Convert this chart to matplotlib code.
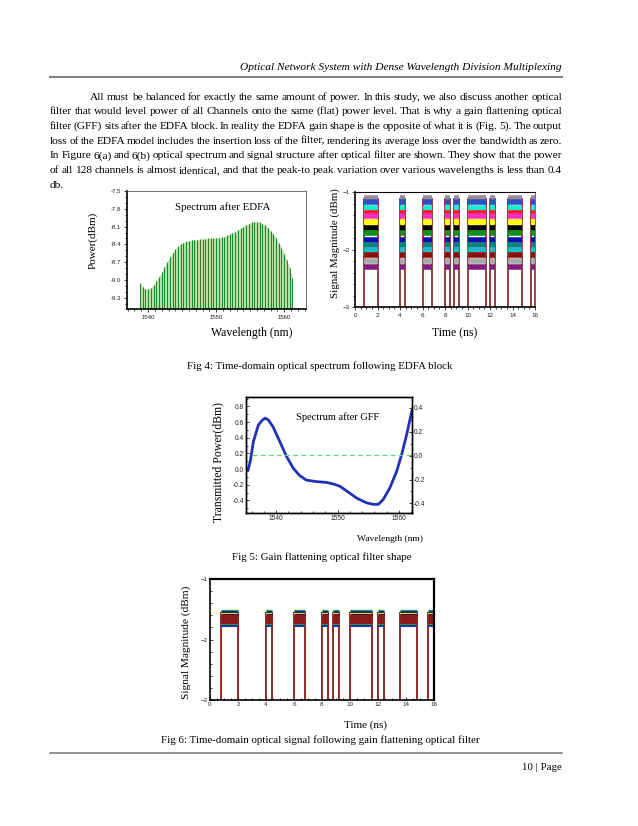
import matplotlib
matplotlib.use('Agg')
import matplotlib.pyplot as plt
from matplotlib.lines import Line2D
from matplotlib.ticker import MultipleLocator, FormatStrFormatter

W, H = 638, 826
SERIF = 'Liberation Serif'
SANS = 'Liberation Sans'

# ---------------- page text ----------------
HEADER = "Optical Network System with Dense Wavelength Division Multiplexing"
BODY_LINES = [
    "All must be balanced for exactly the same amount of power. In this study, we also discuss another optical",
    "filter that would level power of all Channels onto the same (flat) power level. That is why a gain flattening optical",
    "filter (GFF) sits after the EDFA block. In reality the EDFA gain shape is the opposite of what it is (Fig. 5). The output",
    "loss of the EDFA model includes the insertion loss of the filter, rendering its average loss over the bandwidth as zero.",
    "In Figure 6(a) and 6(b) optical spectrum and signal structure after optical filter are shown. They show that the power",
    "of all 128 channels is almost identical, and that the peak-to peak variation over various wavelengths is less than 0.4",
    "db.",
]
CAPTION_4 = "Fig 4: Time-domain optical spectrum following EDFA block"
CAPTION_5 = "Fig 5: Gain flattening optical filter shape"
CAPTION_6 = "Fig 6: Time-domain optical signal following gain flattening optical filter"
FOOTER = "10 | Page"

# ---------------- Fig 4(a): spectrum after EDFA ----------------
EDFA_WAVELENGTH = [
    1538.8, 1539.2, 1539.6, 1540.0, 1540.4, 1540.8, 1541.2, 1541.6, 1542.0, 1542.4,
    1542.8, 1543.2, 1543.6, 1544.0, 1544.4, 1544.8, 1545.2, 1545.6, 1546.0, 1546.4,
    1546.8, 1547.2, 1547.6, 1548.0, 1548.4, 1548.8, 1549.2, 1549.6, 1550.0, 1550.4,
    1550.8, 1551.2, 1551.6, 1552.0, 1552.4, 1552.8, 1553.2, 1553.6, 1554.0, 1554.4,
    1554.8, 1555.2, 1555.6, 1556.0, 1556.4, 1556.8, 1557.2, 1557.6, 1558.0, 1558.4,
    1558.8, 1559.2, 1559.6, 1560.0, 1560.4, 1560.8, 1561.2,
]
EDFA_POWER = [
    -9.05, -9.12, -9.16, -9.15, -9.13, -9.08, -9.02, -8.95, -8.87, -8.78,
    -8.69, -8.61, -8.54, -8.48, -8.43, -8.39, -8.37, -8.35, -8.34, -8.33,
    -8.32, -8.32, -8.31, -8.31, -8.31, -8.30, -8.30, -8.30, -8.29, -8.29,
    -8.28, -8.27, -8.25, -8.23, -8.21, -8.19, -8.16, -8.13, -8.10, -8.07,
    -8.05, -8.03, -8.02, -8.02, -8.03, -8.05, -8.08, -8.12, -8.17, -8.22,
    -8.29, -8.37, -8.46, -8.56, -8.67, -8.80, -8.96,
]
EDFA_YTICKS = [-7.5, -7.8, -8.1, -8.4, -8.7, -9.0, -9.3]

# ---------------- Fig 5: GFF shape ----------------
GFF_WAVELENGTH = [
    1535.4, 1535.8, 1536.3, 1537.1, 1537.7, 1538.2, 1538.7, 1539.5, 1540.6, 1541.7,
    1542.8, 1543.8, 1544.9, 1546.6, 1548.2, 1549.3, 1550.4, 1551.5, 1553.1, 1554.7,
    1555.8, 1556.6, 1557.4, 1558.5, 1559.6, 1560.4, 1561.2, 1562.1,
]
GFF_POWER = [
    -0.02, 0.10, 0.35, 0.56, 0.62, 0.65, 0.63, 0.54, 0.35, 0.16,
    0.01, -0.08, -0.14, -0.16, -0.17, -0.19, -0.22, -0.28, -0.37, -0.43,
    -0.45, -0.45, -0.39, -0.24, -0.03, 0.18, 0.43, 0.75,
]
GFF_FLAT_LEVEL = 0.18
GFF_LEFT_TICKS = [0.8, 0.6, 0.4, 0.2, 0.0, -0.2, -0.4]
GFF_RIGHT_TICKS = [0.4, 0.2, 0.0, -0.2, -0.4]

# ---------------- time-domain signals (Fig 4(b), Fig 6) ----------------
PULSE_STARTS = [0.8, 4.0, 6.0, 8.0, 8.8, 10.0, 12.0, 13.6, 15.6]
PULSE_ENDS = [2.0, 4.4, 6.8, 8.4, 9.2, 11.6, 12.4, 14.8, 16.0]
TIME_TICKS = [0, 2, 4, 6, 8, 10, 12, 14, 16]

EDFA_CH_LEVELS = [-1.10, -1.18, -1.27, -1.36, -1.42, -1.53, -1.62, -1.72,
                  -1.83, -1.93, -2.01, -2.10, -2.20, -2.30]
EDFA_CH_COLORS = ['#9a8a9a', '#3050c0', '#20e8d0', '#ff1a1a', '#ff30c0', '#ffff00',
                  '#000000', '#109020', '#1010b0', '#108080', '#20b8c8', '#8b1010',
                  '#a8a8a8', '#802080']

GFF_CH_LEVELS = [-1.53, -1.55, -1.58, -1.60, -1.67, -1.76, -1.78]
GFF_CH_COLORS = ['#30d030', '#1020b0', '#ffd000', '#101010', '#8b1a1a', '#20a020', '#2030c0']
GFF_CH_WIDTHS = [2.5, 2.5, 1.5, 2.0, 8.0, 1.5, 1.5]


def fx(x):
    return x / W


def fy(y):
    return 1 - y / H


def add_axes(fig, left, top, right, bottom):
    """Axes placed with page pixel coordinates."""
    return fig.add_axes([left / W, 1 - bottom / H, (right - left) / W, (bottom - top) / H])


def page_text(fig, x, y, s, size, ha='center', rotation=0, family=SERIF, style='normal'):
    return fig.text(fx(x), fy(y), s, fontsize=size, ha=ha, va='center',
                    rotation=rotation, family=family, style=style)


def draw_justified(fig, renderer, line, x0, x1, y, size, justify=True):
    """Draw one body line spread between x0 and x1 (y is the baseline)."""
    words = line.split(' ')
    texts = [fig.text(0, fy(y), w, fontsize=size, family=SERIF, va='baseline') for w in words]
    widths = [t.get_window_extent(renderer).width for t in texts]
    if justify and len(words) > 1:
        gap = (x1 - x0 - sum(widths)) / (len(words) - 1)
    else:
        gap = size * 0.35
    x = x0
    for t, w in zip(texts, widths):
        t.set_x(fx(x))
        x += w + gap


def style_ticks(ax, direction, size=4.5):
    ax.tick_params(which='both', direction=direction, labelsize=size, width=0.6,
                   colors='#222222', pad=1.5)
    ax.tick_params(which='major', length=2.5)
    ax.tick_params(which='minor', length=1.5)
    for lab in ax.get_xticklabels() + ax.get_yticklabels():
        lab.set_family(SANS)


def draw_edfa_spectrum(fig):
    ax = add_axes(fig, 127, 191, 306, 309)
    bottom = -9.49
    ax.fill_between(EDFA_WAVELENGTH, EDFA_POWER, bottom, color='#b8e0b2', lw=0)
    ax.vlines(EDFA_WAVELENGTH, bottom, EDFA_POWER, color='#1f8a1f', lw=0.75)
    ax.set_xlim(1536.9, 1563.2)
    ax.set_ylim(bottom, -7.5)
    ax.set_xticks([1540, 1550, 1560])
    ax.xaxis.set_minor_locator(MultipleLocator(1))
    ax.set_yticks(EDFA_YTICKS)
    ax.yaxis.set_minor_locator(MultipleLocator(0.1))
    ax.yaxis.set_major_formatter(FormatStrFormatter('%.1f'))
    style_ticks(ax, 'out', 4.3)
    for side in ['left', 'bottom']:
        ax.spines[side].set_linewidth(1.2)
    for side in ['top', 'right']:
        ax.spines[side].set_linewidth(0.6)
        ax.spines[side].set_color('#555555')
    page_text(fig, 223, 207, 'Spectrum after EDFA', 7.8)
    page_text(fig, 93, 240, 'Power(dBm)', 8.0, rotation=90)
    page_text(fig, 252, 333, 'Wavelength (nm)', 8.5)


def draw_pulses(ax, levels, colors, widths, edge_color, edge_top):
    ax.vlines(PULSE_STARTS + PULSE_ENDS, -3, edge_top, color=edge_color, lw=1.3)
    for level, color, lw in zip(levels, colors, widths):
        ax.hlines([level] * len(PULSE_STARTS), PULSE_STARTS, PULSE_ENDS,
                  color=color, lw=lw)


def time_axes(ax, direction):
    ax.set_xlim(0, 16)
    ax.set_ylim(-3, -1)
    ax.set_xticks(TIME_TICKS)
    ax.xaxis.set_minor_locator(MultipleLocator(0.5))
    ax.set_yticks([-1, -2, -3])
    ax.yaxis.set_minor_locator(MultipleLocator(0.2))
    style_ticks(ax, direction, 4.5)


def draw_edfa_signal(fig):
    ax = add_axes(fig, 355, 192, 535, 307)
    draw_pulses(ax, EDFA_CH_LEVELS, EDFA_CH_COLORS, [4.0] * len(EDFA_CH_LEVELS),
                '#8b3030', -1.1)
    time_axes(ax, 'out')
    for side in ['left', 'bottom']:
        ax.spines[side].set_linewidth(1.2)
    ax.spines['top'].set_linewidth(0.8)
    ax.spines['right'].set_linewidth(0.6)
    ax.spines['right'].set_color('#555555')
    page_text(fig, 335, 243, 'Signal Magnitude (dBm)', 7.8, rotation=90)
    page_text(fig, 455, 333, 'Time (ns)', 8.5)


def draw_gff_shape(fig):
    ax = add_axes(fig, 246, 397, 412, 513)
    ax.plot(GFF_WAVELENGTH, GFF_POWER, color='#2232b8', lw=2.0, solid_capstyle='round')
    ax.hlines(GFF_FLAT_LEVEL, 1536.0, 1562.1, color='#6ad86a', lw=0.9, linestyles=(0, (4, 2.5)))
    ax.set_xlim(1535.1, 1562.1)
    ax.set_ylim(-0.56, 0.92)
    ax.set_xticks([1540, 1550, 1560])
    ax.xaxis.set_minor_locator(MultipleLocator(2))
    ax.set_yticks(GFF_LEFT_TICKS)
    ax.yaxis.set_minor_locator(MultipleLocator(0.1))
    ax.yaxis.set_major_formatter(FormatStrFormatter('%.1f'))
    style_ticks(ax, 'in', 4.8)
    twin = ax.twinx()
    twin.set_ylim(-0.48, 0.49)
    twin.set_yticks(GFF_RIGHT_TICKS)
    twin.yaxis.set_minor_locator(MultipleLocator(0.1))
    twin.yaxis.set_major_formatter(FormatStrFormatter('%.1f'))
    style_ticks(twin, 'in', 4.8)
    for a in (ax, twin):
        for side in a.spines:
            a.spines[side].set_linewidth(1.0)
    page_text(fig, 338, 417, 'Spectrum after GFF', 7.5)
    page_text(fig, 218, 462, 'Transmitted Power(dBm)', 8.5, rotation=90)
    page_text(fig, 390, 539, 'Wavelength (nm)', 6.8)


def draw_gff_signal(fig):
    ax = add_axes(fig, 210, 579, 434, 700)
    draw_pulses(ax, GFF_CH_LEVELS, GFF_CH_COLORS, GFF_CH_WIDTHS, '#8b1a1a', -1.55)
    time_axes(ax, 'in')
    for side in ['left', 'bottom']:
        ax.spines[side].set_linewidth(1.2)
    for side in ['top', 'right']:
        ax.spines[side].set_linewidth(1.6)
    page_text(fig, 186, 642, 'Signal Magnitude (dBm)', 8.2, rotation=90)
    page_text(fig, 365, 725, 'Time (ns)', 8.0)


def draw_page(fig):
    renderer = fig.canvas.get_renderer()
    x0, x1 = 50, 562
    page_text(fig, x1, 68, HEADER, 8.2, ha='right', style='italic')
    fig.add_artist(Line2D([fx(x0), fx(x1)], [fy(77), fy(77)], color='#808080', lw=1.5))
    y = 99.5
    for i, line in enumerate(BODY_LINES):
        start = x0 + 40 if i == 0 else x0
        draw_justified(fig, renderer, line, start, x1, y, 8.2,
                       justify=(i < len(BODY_LINES) - 1))
        y += 14.7
    page_text(fig, 320, 366, CAPTION_4, 7.8)
    page_text(fig, 322, 557, CAPTION_5, 7.8)
    page_text(fig, 320, 740, CAPTION_6, 7.8)
    fig.add_artist(Line2D([fx(x0), fx(x1)], [fy(753), fy(753)], color='#808080', lw=1.2))
    page_text(fig, x1, 767, FOOTER, 7.8, ha='right')


def main():
    fig = plt.figure(figsize=(W / 100, H / 100), dpi=100)
    fig.patch.set_facecolor('white')
    draw_page(fig)
    draw_edfa_spectrum(fig)
    draw_edfa_signal(fig)
    draw_gff_shape(fig)
    draw_gff_signal(fig)
    fig.savefig('out.png', dpi=100)


if __name__ == "__main__":
    main()
